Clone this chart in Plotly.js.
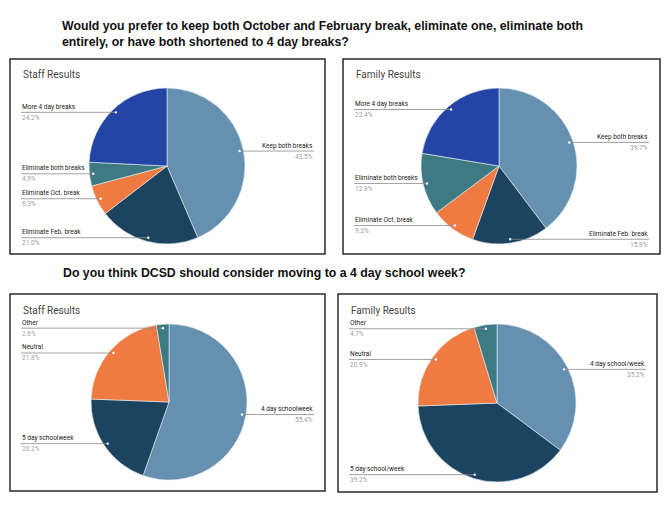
<!DOCTYPE html>
<html><head><meta charset="utf-8">
<script src="https://cdn.plot.ly/plotly-3.0.1.min.js"></script>
<style>html,body{margin:0;padding:0;background:#fff}#chart{width:670px;height:513px}</style>
</head><body><div id="chart"></div>
<script>
// ---- data ----
const question1 = "Would you prefer to keep both October and February break, eliminate one, eliminate both<br>entirely, or have both shortened to 4 day breaks?";
const question2 = "Do you think DCSD should consider moving to a 4 day school week?";
const panelTitles = ["Staff Results", "Family Results", "Staff Results", "Family Results"];
const breakLabels = ["Keep both breaks", "Eliminate Feb. break", "Eliminate Oct. break", "Eliminate both breaks", "More 4 day breaks"];
const staffBreakValues = [43.5, 21.0, 6.3, 4.9, 24.2];
const familyBreakValues = [39.7, 15.8, 9.3, 12.8, 22.4];
const staffWeekLabels = ["4 day schoolweek", "5 day schoolweek", "Neutral", "Other"];
const familyWeekLabels = ["4 day school/week", "5 day school/week", "Neutral", "Other"];
const staffWeekValues = [55.4, 20.2, 21.8, 2.6];
const familyWeekValues = [35.2, 39.2, 20.9, 4.7];
const breakColors = ["#6690b0", "#1c4461", "#ef7b43", "#3e7a84", "#2445a5"];
const weekColors = ["#6690b0", "#1c4461", "#ef7b43", "#3e7a84"];

// ---- layout (pixels) ----
const W = 670, H = 513;
const panels = [
  {title: panelTitles[0], labels: breakLabels, values: staffBreakValues, colors: breakColors, box: [10, 59, 325, 254], cx: 167, cy: 166, r: 78},
  {title: panelTitles[1], labels: breakLabels, values: familyBreakValues, colors: breakColors, box: [343, 59, 660, 254], cx: 499, cy: 166, r: 78},
  {title: panelTitles[2], labels: staffWeekLabels, values: staffWeekValues, colors: weekColors, box: [10, 294, 325, 491], cx: 169, cy: 402, r: 78},
  {title: panelTitles[3], labels: familyWeekLabels, values: familyWeekValues, colors: weekColors, box: [338, 294, 657, 492], cx: 497, cy: 403, r: 79}
];
const px = x => x / W;
const py = y => 1 - y / H;

const traces = [], shapes = [], annotations = [];
const FONT = "Roboto, Arial, sans-serif";

annotations.push({xref: "paper", yref: "paper", x: px(60), y: py(34), xanchor: "left", yanchor: "middle", align: "left",
  text: "<b>" + question1.replace("<br>", "</b><br><b>") + "</b>", showarrow: false,
  font: {family: "Liberation Sans, Arial, sans-serif", size: 12.3, color: "#111"}});
annotations.push({xref: "paper", yref: "paper", x: px(61), y: py(273), xanchor: "left", yanchor: "middle",
  text: "<b>" + question2 + "</b>", showarrow: false,
  font: {family: "Liberation Sans, Arial, sans-serif", size: 12.3, color: "#111"}});

panels.forEach(p => {
  const [x0, y0, x1, y1] = p.box;
  shapes.push({type: "rect", xref: "paper", yref: "paper", x0: px(x0), x1: px(x1), y0: py(y1), y1: py(y0),
    line: {color: "#2a2a2a", width: 1.5}, fillcolor: "rgba(0,0,0,0)", layer: "below"});
  annotations.push({xref: "paper", yref: "paper", x: px(x0 + 11), y: py(y0 + 16), xanchor: "left", yanchor: "middle",
    text: p.title, showarrow: false, font: {family: FONT, size: 10, color: "#444"}});
  traces.push({type: "pie", labels: p.labels, values: p.values, sort: false, direction: "clockwise", rotation: 0,
    textinfo: "none", hoverinfo: "skip", showlegend: false,
    marker: {colors: p.colors, line: {color: "#e8eef3", width: 0.6}},
    domain: {x: [px(p.cx - p.r), px(p.cx + p.r)], y: [py(p.cy + p.r), py(p.cy - p.r)]}});
  const total = p.values.reduce((a, b) => a + b, 0);
  let cum = 0;
  p.values.forEach((v, i) => {
    const mid = (cum + v / 2) / total * 2 * Math.PI;
    cum += v;
    const dx = p.r * 0.95 * Math.sin(mid), dy = -p.r * 0.95 * Math.cos(mid);
    const dotX = p.cx + dx, dotY = p.cy + dy;
    const right = mid < Math.PI;
    const lx = right ? x1 - 11 : x0 + 11;
    shapes.push({type: "line", xref: "paper", yref: "paper", x0: px(lx), x1: px(dotX), y0: py(dotY), y1: py(dotY),
      line: {color: "#8a8a8a", width: 0.8}});
    shapes.push({type: "circle", xref: "paper", yref: "paper", x0: px(dotX - 1.2), x1: px(dotX + 1.2), y0: py(dotY + 1.2), y1: py(dotY - 1.2),
      line: {width: 0}, fillcolor: "#ffffff"});
    annotations.push({xref: "paper", yref: "paper", x: px(lx), y: py(dotY - 0.5), xanchor: right ? "right" : "left", yanchor: "bottom",
      text: p.labels[i], showarrow: false, font: {family: FONT, size: 6.5, color: "#222"}, borderpad: 0});
    annotations.push({xref: "paper", yref: "paper", x: px(lx), y: py(dotY + 0.5), xanchor: right ? "right" : "left", yanchor: "top",
      text: v.toFixed(1) + "%", showarrow: false, font: {family: FONT, size: 6.5, color: "#a0a0a0"}, borderpad: 0});
  });
});

Plotly.newPlot("chart", traces, {
  width: W, height: H, margin: {l: 0, r: 0, t: 0, b: 0},
  paper_bgcolor: "#ffffff", plot_bgcolor: "#ffffff",
  shapes: shapes, annotations: annotations, showlegend: false
}, {staticPlot: true, displayModeBar: false});
</script>
</body></html>
